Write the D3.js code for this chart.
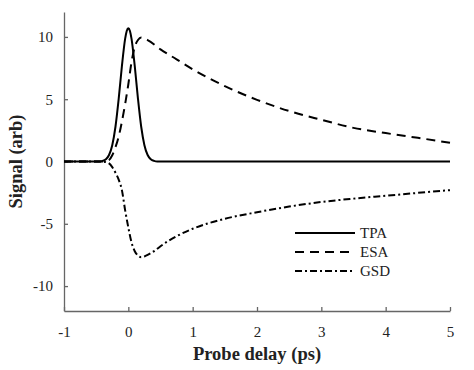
<!DOCTYPE html>
<html>
<head>
<meta charset="utf-8">
<script src="https://cdn.jsdelivr.net/npm/d3@7"></script>
<style>
  body { margin: 0; background: #fff; }
  .axis text { font-family: "Liberation Serif", "DejaVu Serif", serif; font-size: 15px; fill: #222; }
  .axis path, .axis line { stroke: #666; stroke-width: 1.3px; }
  .axis-title { font-family: "Liberation Serif", serif; font-size: 18.5px; font-weight: bold; fill: #222; }
  .legend text { font-family: "Liberation Serif", serif; font-size: 15px; fill: #222; }
</style>
</head>
<body>
<div id="chart"></div>
<script>
// values
var tpaX = [-1, -0.45, -0.4, -0.35, -0.3, -0.25, -0.2, -0.15, -0.1, -0.05, -0.025, 0, 0.025, 0.05, 0.1, 0.15, 0.2, 0.25, 0.3, 0.35, 0.4, 0.45, 5];
var tpaY = [0, 0, 0.05, 0.18, 0.52, 1.31, 2.79, 5.03, 7.65, 9.84, 10.48, 10.7, 10.48, 9.84, 7.65, 5.03, 2.79, 1.31, 0.52, 0.18, 0.05, 0, 0];

var esaX = [-1, -0.4, -0.35, -0.3, -0.25, -0.2, -0.15, -0.1, -0.05, 0, 0.05, 0.1, 0.15, 0.2, 0.3, 0.5, 0.75, 1, 1.5, 2, 2.5, 3, 3.5, 4, 4.5, 5];
var esaY = [0, 0, 0.03, 0.12, 0.5, 1.15, 2.0, 3.2, 4.6, 6.2, 8.0, 9.2, 9.75, 9.95, 9.75, 9.0, 8.2, 7.4, 6.05, 4.95, 4.05, 3.35, 2.7, 2.28, 1.9, 1.5];

var gsdX = [-1, -0.4, -0.35, -0.3, -0.25, -0.2, -0.15, -0.1, -0.05, 0, 0.05, 0.1, 0.15, 0.2, 0.25, 0.3, 0.4, 0.5, 0.75, 1, 1.5, 2, 2.5, 3, 3.5, 4, 4.5, 5];
var gsdY = [0, 0, -0.05, -0.15, -0.45, -0.9, -1.45, -2.3, -3.9, -5.3, -6.5, -7.2, -7.55, -7.68, -7.62, -7.5, -7.2, -6.8, -6.0, -5.4, -4.6, -4.07, -3.62, -3.25, -2.98, -2.75, -2.52, -2.3];

var xTicks = [-1, 0, 1, 2, 3, 4, 5];
var yTicks = [-10, -5, 0, 5, 10];

var series = [
  {name: "TPA", x: tpaX, y: tpaY, dash: null},
  {name: "ESA", x: esaX, y: esaY, dash: "9,6"},
  {name: "GSD", x: gsdX, y: gsdY, dash: "7,3,2,3"}
];

var chartWidth = 474, chartHeight = 370;
var margin = {top: 12, right: 24, bottom: 59, left: 64},
    width  = chartWidth - margin.left - margin.right,
    height = chartHeight - margin.top - margin.bottom;

var x = d3.scaleLinear().domain([-1, 5]).range([0, width]);
var y = d3.scaleLinear().domain([-12, 12]).range([height, 0]);

var line = d3.line()
    .x(function(d) { return x(d[0]); })
    .y(function(d) { return y(d[1]); })
    .curve(d3.curveMonotoneX);

var svg = d3.select("#chart").append("svg")
    .attr("width", chartWidth)
    .attr("height", chartHeight)
  .append("g")
    .attr("transform", "translate(" + margin.left + "," + margin.top + ")");

svg.append("g")
    .attr("class", "axis axis--x")
    .attr("transform", "translate(0," + height + ")")
    .call(d3.axisBottom(x).tickValues(xTicks).tickSizeInner(-4).tickSizeOuter(0).tickPadding(15).tickFormat(d3.format("d")));

svg.append("g")
    .attr("class", "axis axis--y")
    .call(d3.axisLeft(y).tickValues(yTicks).tickSizeInner(-4).tickSizeOuter(0).tickPadding(11).tickFormat(d3.format("d")));

svg.selectAll(".axis text").text(function() { return this.textContent.replace("\u2212", "-"); });

series.forEach(function(s) {
  var pts = s.x.map(function(v, i) { return [v, s.y[i]]; });
  svg.append("path")
      .datum(pts)
      .attr("fill", "none")
      .attr("stroke", "#000")
      .attr("stroke-width", 2)
      .attr("stroke-dasharray", s.dash)
      .attr("d", line);
});

// legend
var legend = svg.append("g").attr("class", "legend")
    .attr("transform", "translate(231,221)");
series.forEach(function(s, i) {
  legend.append("line")
      .attr("x1", 0).attr("x2", 60)
      .attr("y1", i * 19).attr("y2", i * 19)
      .attr("stroke", "#000").attr("stroke-width", 2)
      .attr("stroke-dasharray", s.dash);
  legend.append("text")
      .attr("x", 65).attr("y", i * 19).attr("dy", "0.35em")
      .text(s.name);
});

svg.append("text")
    .attr("class", "axis-title")
    .attr("x", width / 2).attr("y", height + 49)
    .attr("text-anchor", "middle")
    .text("Probe delay (ps)");

svg.append("text")
    .attr("class", "axis-title")
    .attr("transform", "translate(-42," + (height / 2) + ") rotate(-90)")
    .attr("text-anchor", "middle")
    .text("Signal (arb)");
</script>
</body>
</html>
